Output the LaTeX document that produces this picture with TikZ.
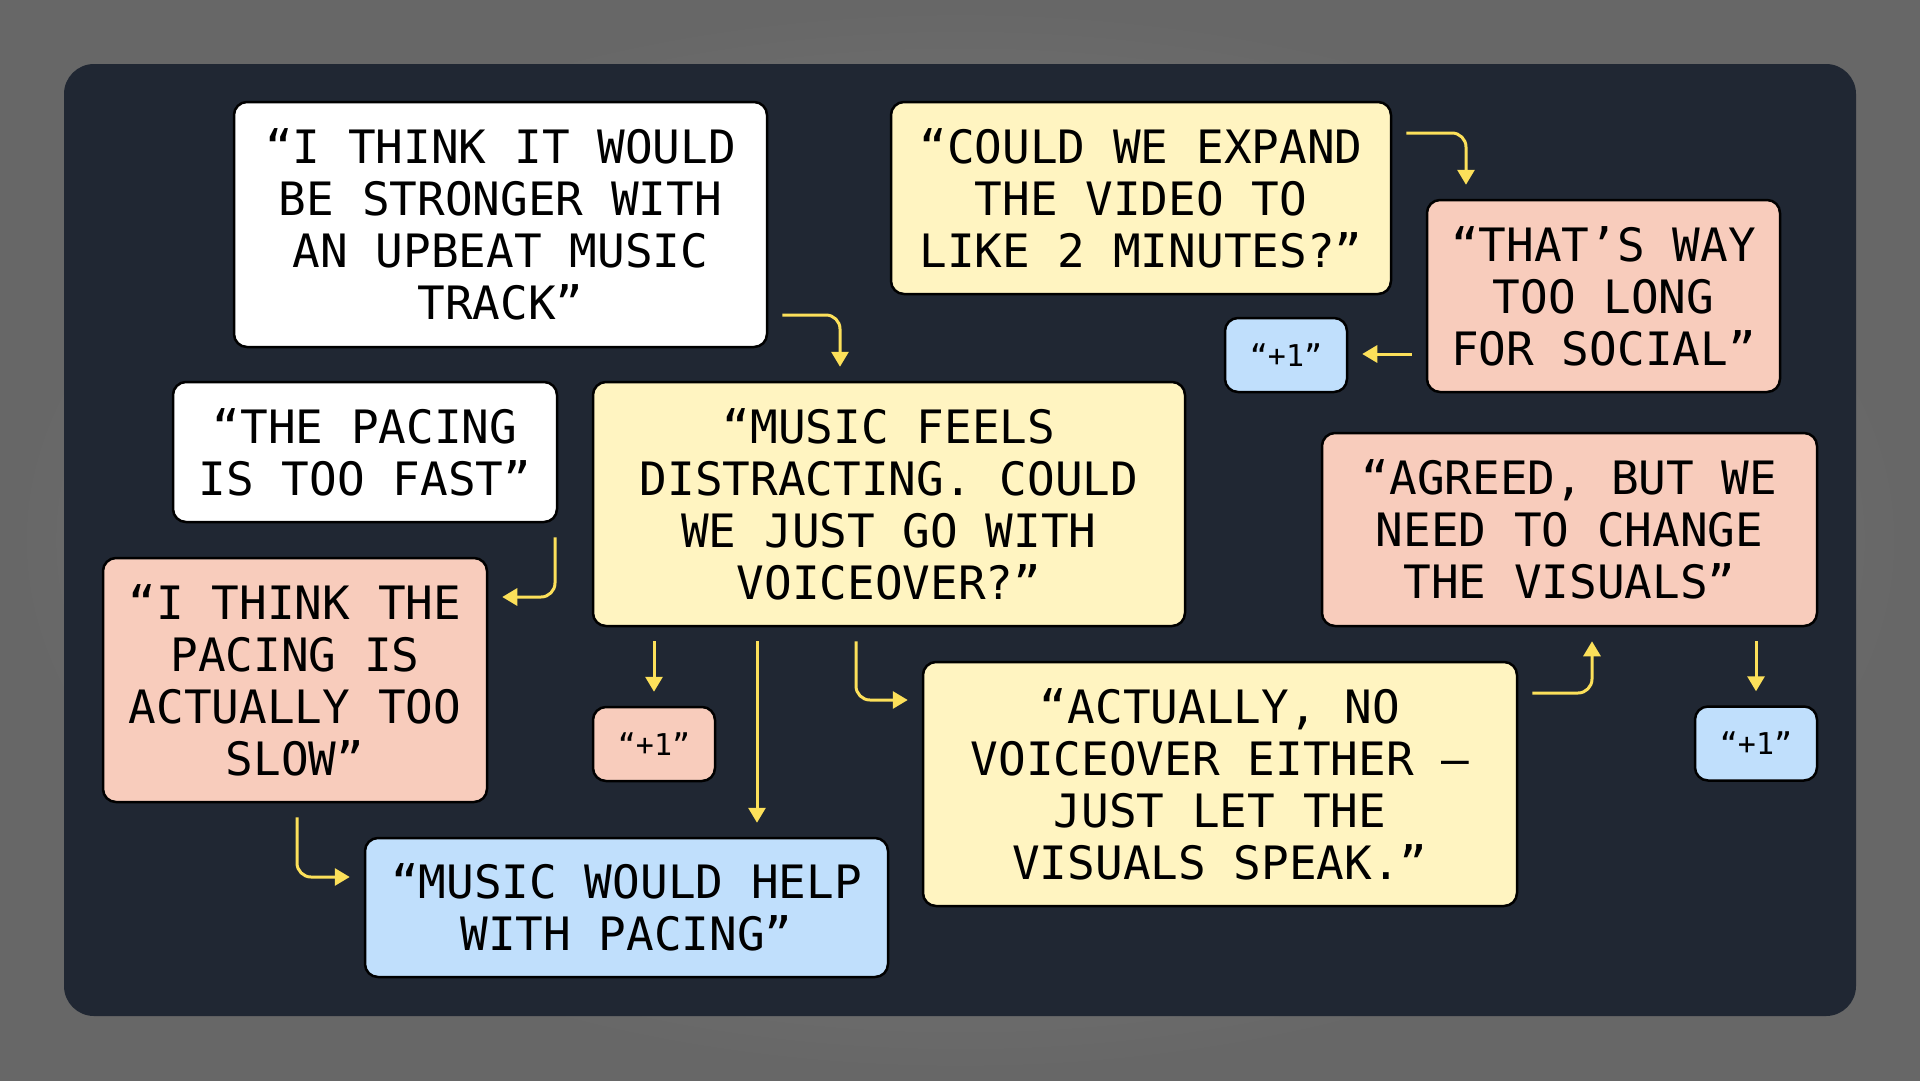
\documentclass[tikz,border=0pt]{standalone}
\usepackage{fontspec}
\newfontfamily\monofont{DejaVu Sans Mono}
\usetikzlibrary{arrows.meta}
\definecolor{bg}{HTML}{727272}
\definecolor{panel}{HTML}{202733}
\definecolor{cardyellow}{HTML}{FFF4C1}
\definecolor{cardpink}{HTML}{F8CCBC}
\definecolor{cardblue}{HTML}{C0DFFC}
\definecolor{arrowyellow}{HTML}{FCE05A}
\begin{document}
\begin{tikzpicture}[x=1pt,y=-1pt,
  card/.style={draw=black, line width=2.5pt, rounded corners=13pt, inner sep=0pt,
    align=center, font=\monofont\frenchspacing\fontsize{46}{52}\selectfont},
  plusone/.style={card, font=\monofont\fontsize{30}{36}\selectfont,
    minimum width=122pt, minimum height=74pt},
  conn/.style={draw=arrowyellow, line width=3pt, rounded corners=14pt,
    -{Triangle[width=17pt,length=15pt]}, shorten <=14pt, shorten >=14pt}]
\useasboundingbox (0,0) rectangle (1920,1080);
\shade[inner color=bg!85!white, outer color=bg!90!black] (0,0) rectangle (1920,1080);
\fill[panel, rounded corners=30pt] (64,64) rectangle (1856,1016);

\node[card, fill=white, minimum width=533pt, minimum height=245pt] (b1) at (500.5,224.5)
  {“I THINK IT WOULD\\BE STRONGER WITH\\AN UPBEAT MUSIC\\TRACK”};
\node[card, fill=cardyellow, minimum width=500pt, minimum height=192pt] (b2) at (1141,198)
  {“COULD WE EXPAND\\THE VIDEO TO\\LIKE 2 MINUTES?”};
\node[card, fill=cardpink, minimum width=353pt, minimum height=192pt] (b3) at (1603.5,296)
  {“THAT’S WAY\\TOO LONG\\FOR SOCIAL”};
\node[plusone, fill=cardblue] (b4) at (1286,355) {“+1”};
\node[card, fill=white, minimum width=384pt, minimum height=140pt] (b5) at (365,452)
  {“THE PACING\\IS TOO FAST”};
\node[card, fill=cardyellow, minimum width=592pt, minimum height=244pt] (b6) at (889,504)
  {“MUSIC FEELS\\DISTRACTING. COULD\\WE JUST GO WITH\\VOICEOVER?”};
\node[card, fill=cardpink, minimum width=384pt, minimum height=244pt] (b7) at (295,680)
  {“I THINK THE\\PACING IS\\ACTUALLY TOO\\SLOW”};
\node[plusone, fill=cardpink] (b8) at (654,744) {“+1”};
\node[card, fill=cardyellow, minimum width=594pt, minimum height=244pt] (b9) at (1220,784)
  {“ACTUALLY, NO\\VOICEOVER EITHER –\\JUST LET THE\\VISUALS SPEAK.”};
\node[card, fill=cardblue, minimum width=523pt, minimum height=139pt] (b10) at (626.5,907.5)
  {“MUSIC WOULD HELP\\WITH PACING”};
\node[card, fill=cardpink, minimum width=495pt, minimum height=193pt] (b11) at (1569.5,529.5)
  {“AGREED, BUT WE\\NEED TO CHANGE\\THE VISUALS”};
\node[plusone, fill=cardblue] (b12) at (1756,743.5) {“+1”};

\draw[conn] (b1.east |- 0,315) -| (840,0 |- b6.north);
\draw[conn] (b2.east |- 0,133) -| (1466,0 |- b3.north);
\draw[conn] (b3.west |- 0,354) -- (b4.east |- 0,354);
\draw[conn] (555,0 |- b5.south) |- (b7.east |- 0,597);
\draw[conn] (b6.south -| b8.north) -- (b8.north);
\draw[conn] (757,0 |- b6.south) -- (757,0 |- b10.north);
\draw[conn] (856,0 |- b6.south) |- (b9.west |- 0,700);
\draw[conn] (297,0 |- b7.south) |- (b10.west |- 0,877);
\draw[conn] (b9.east |- 0,693) -| (1592,0 |- b11.south);
\draw[conn] (b11.south -| b12.north) -- (b12.north);
\end{tikzpicture}
\end{document}
